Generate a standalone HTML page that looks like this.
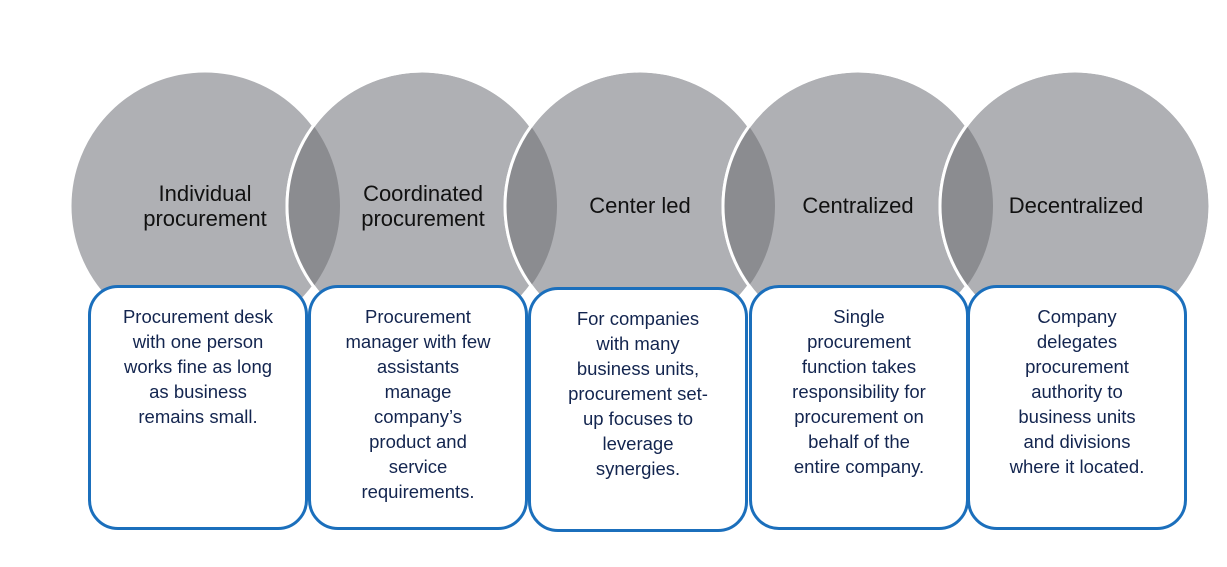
<!DOCTYPE html>
<html><head><style>
body{margin:0;background:#fff;width:1227px;height:567px;overflow:hidden;position:relative;font-family:"Liberation Sans",Arial,sans-serif}
.lab{position:absolute;width:220px;text-align:center;font-size:22px;line-height:25px;color:#111}
.box{position:absolute;top:286px;width:214px;height:239px;border:3px solid #1b6fbc;border-radius:30px;background:#fff;box-sizing:content-box}
.box p{margin:16px 0 0;text-align:center;font-size:18.5px;line-height:25px;color:#13254f;white-space:nowrap}
</style></head><body>
<svg width="1227" height="567" style="position:absolute;left:0;top:0">
<defs>
<clipPath id="c0"><circle cx="205" cy="206" r="135"/></clipPath>
<clipPath id="c1"><circle cx="422" cy="206" r="135"/></clipPath>
<clipPath id="c2"><circle cx="640" cy="206" r="135"/></clipPath>
<clipPath id="c3"><circle cx="858" cy="206" r="135"/></clipPath>
</defs>
<circle cx="205" cy="206" r="135" fill="#afb0b4" stroke="#fff" stroke-width="3"/>
<circle cx="422" cy="206" r="135" fill="#afb0b4" stroke="#fff" stroke-width="3"/>
<circle cx="422" cy="206" r="135" fill="#8b8c90" clip-path="url(#c0)"/>
<circle cx="422" cy="206" r="135" fill="none" stroke="#fff" stroke-width="3"/>
<circle cx="640" cy="206" r="135" fill="#afb0b4" stroke="#fff" stroke-width="3"/>
<circle cx="640" cy="206" r="135" fill="#8b8c90" clip-path="url(#c1)"/>
<circle cx="640" cy="206" r="135" fill="none" stroke="#fff" stroke-width="3"/>
<circle cx="858" cy="206" r="135" fill="#afb0b4" stroke="#fff" stroke-width="3"/>
<circle cx="858" cy="206" r="135" fill="#8b8c90" clip-path="url(#c2)"/>
<circle cx="858" cy="206" r="135" fill="none" stroke="#fff" stroke-width="3"/>
<circle cx="1075" cy="206" r="135" fill="#afb0b4" stroke="#fff" stroke-width="3"/>
<circle cx="1075" cy="206" r="135" fill="#8b8c90" clip-path="url(#c3)"/>
<circle cx="1075" cy="206" r="135" fill="none" stroke="#fff" stroke-width="3"/>
</svg>
<div class="lab" style="left:95px;top:181px">Individual<br>procurement</div>
<div class="lab" style="left:313px;top:181px">Coordinated<br>procurement</div>
<div class="lab" style="left:530px;top:193px">Center led</div>
<div class="lab" style="left:748px;top:193px">Centralized</div>
<div class="lab" style="left:966px;top:193px">Decentralized</div>
<div class="box" style="left:88px;top:285px"><p>Procurement desk<br>with one person<br>works fine as long<br>as business<br>remains small.</p></div>
<div class="box" style="left:308px;top:285px"><p>Procurement<br>manager with few<br>assistants<br>manage<br>company’s<br>product and<br>service<br>requirements.</p></div>
<div class="box" style="left:528px;top:287px"><p>For companies<br>with many<br>business units,<br>procurement set-<br>up focuses to<br>leverage<br>synergies.</p></div>
<div class="box" style="left:749px;top:285px"><p>Single<br>procurement<br>function takes<br>responsibility for<br>procurement on<br>behalf of the<br>entire company.</p></div>
<div class="box" style="left:967px;top:285px"><p>Company<br>delegates<br>procurement<br>authority to<br>business units<br>and divisions<br>where it located.</p></div>
</body></html>
